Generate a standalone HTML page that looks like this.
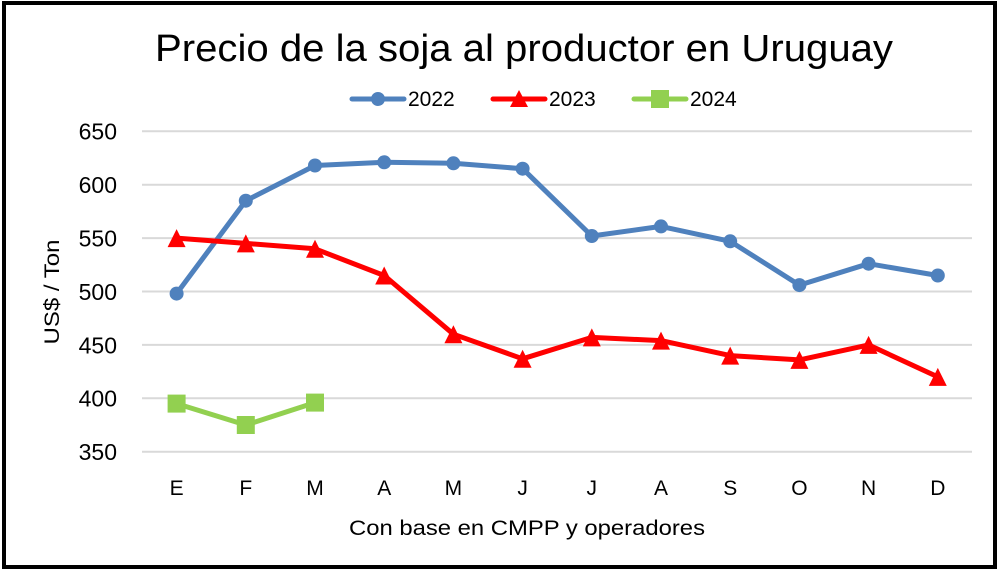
<!DOCTYPE html>
<html>
<head>
<meta charset="utf-8">
<style>
  html, body { margin: 0; padding: 0; background: #fff; }
  svg { display: block; }
  text { font-family: "Liberation Sans", "DejaVu Sans", sans-serif; fill: #000; }
</style>
</head>
<body>
<svg width="1000" height="570" viewBox="0 0 1000 570" xmlns="http://www.w3.org/2000/svg">
  <rect x="0" y="0" width="1000" height="570" fill="#fff"/>
  <rect x="4" y="3" width="991" height="564" fill="#fff" stroke="#000" stroke-width="4"/>

  <!-- Title -->
  <text x="155" y="61" font-size="38" textLength="738" lengthAdjust="spacingAndGlyphs">Precio de la soja al productor en Uruguay</text>

  <!-- Legend -->
  <line x1="352" y1="99" x2="404" y2="99" stroke="#4f81bd" stroke-width="5" stroke-linecap="round"/>
  <circle cx="378" cy="99" r="7" fill="#4f81bd"/>
  <text x="408" y="106" font-size="21">2022</text>
  <line x1="493" y1="99" x2="545" y2="99" stroke="#ff0000" stroke-width="5" stroke-linecap="round"/>
  <polygon points="519,90 528,107 510,107" fill="#ff0000"/>
  <text x="549" y="106" font-size="21">2023</text>
  <line x1="634" y1="99" x2="686" y2="99" stroke="#92d050" stroke-width="5" stroke-linecap="round"/>
  <rect x="651" y="90" width="18" height="18" fill="#92d050"/>
  <text x="690" y="106" font-size="21">2024</text>

  <!-- Gridlines -->
  <g stroke="#d9d9d9" stroke-width="2">
    <line x1="142" y1="131.3" x2="972" y2="131.3"/>
    <line x1="142" y1="184.7" x2="972" y2="184.7"/>
    <line x1="142" y1="238.1" x2="972" y2="238.1"/>
    <line x1="142" y1="291.5" x2="972" y2="291.5"/>
    <line x1="142" y1="344.9" x2="972" y2="344.9"/>
    <line x1="142" y1="398.3" x2="972" y2="398.3"/>
    <line x1="142" y1="451.7" x2="972" y2="451.7"/>
  </g>

  <!-- Y labels -->
  <g font-size="23" text-anchor="end">
    <text x="117" y="139.5">650</text>
    <text x="117" y="193">600</text>
    <text x="117" y="246.5">550</text>
    <text x="117" y="300">500</text>
    <text x="117" y="353.5">450</text>
    <text x="117" y="406.5">400</text>
    <text x="117" y="460">350</text>
  </g>

  <!-- Y axis title -->
  <text transform="translate(59,292) rotate(-90)" font-size="21" text-anchor="middle" textLength="105" lengthAdjust="spacingAndGlyphs">US$ / Ton</text>

  <!-- X labels -->
  <g font-size="21" text-anchor="middle">
    <text x="176.6" y="495">E</text>
    <text x="245.8" y="495">F</text>
    <text x="315.0" y="495">M</text>
    <text x="384.2" y="495">A</text>
    <text x="453.4" y="495">M</text>
    <text x="522.6" y="495">J</text>
    <text x="591.8" y="495">J</text>
    <text x="661.0" y="495">A</text>
    <text x="730.2" y="495">S</text>
    <text x="799.4" y="495">O</text>
    <text x="868.6" y="495">N</text>
    <text x="937.8" y="495">D</text>
  </g>

  <!-- X axis title -->
  <text x="527" y="535" font-size="21" text-anchor="middle" textLength="356" lengthAdjust="spacingAndGlyphs">Con base en CMPP y operadores</text>

  <!-- 2022 series -->
  <polyline fill="none" stroke="#4f81bd" stroke-width="5" stroke-linejoin="round"
    points="176.6,293.6 245.8,200.7 315.0,165.5 384.2,162.3 453.4,163.3 522.6,168.7 591.8,236.0 661.0,226.4 730.2,241.3 799.4,285.1 868.6,263.7 937.8,275.5"/>
  <g fill="#4f81bd">
    <circle cx="176.6" cy="293.6" r="7"/>
    <circle cx="245.8" cy="200.7" r="7"/>
    <circle cx="315.0" cy="165.5" r="7"/>
    <circle cx="384.2" cy="162.3" r="7"/>
    <circle cx="453.4" cy="163.3" r="7"/>
    <circle cx="522.6" cy="168.7" r="7"/>
    <circle cx="591.8" cy="236.0" r="7"/>
    <circle cx="661.0" cy="226.4" r="7"/>
    <circle cx="730.2" cy="241.3" r="7"/>
    <circle cx="799.4" cy="285.1" r="7"/>
    <circle cx="868.6" cy="263.7" r="7"/>
    <circle cx="937.8" cy="275.5" r="7"/>
  </g>

  <!-- 2023 series -->
  <polyline fill="none" stroke="#ff0000" stroke-width="5" stroke-linejoin="round"
    points="176.6,238.1 245.8,243.4 315.0,248.8 384.2,275.5 453.4,334.2 522.6,358.8 591.8,337.4 661.0,340.6 730.2,355.6 799.4,359.9 868.6,344.9 937.8,376.9"/>
  <g fill="#ff0000">
    <polygon points="176.6,229.1 185.6,247.1 167.6,247.1"/>
    <polygon points="245.8,234.4 254.8,252.4 236.8,252.4"/>
    <polygon points="315.0,239.8 324.0,257.8 306.0,257.8"/>
    <polygon points="384.2,266.5 393.2,284.5 375.2,284.5"/>
    <polygon points="453.4,325.2 462.4,343.2 444.4,343.2"/>
    <polygon points="522.6,349.8 531.6,367.8 513.6,367.8"/>
    <polygon points="591.8,328.4 600.8,346.4 582.8,346.4"/>
    <polygon points="661.0,331.6 670.0,349.6 652.0,349.6"/>
    <polygon points="730.2,346.6 739.2,364.6 721.2,364.6"/>
    <polygon points="799.4,350.9 808.4,368.9 790.4,368.9"/>
    <polygon points="868.6,335.9 877.6,353.9 859.6,353.9"/>
    <polygon points="937.8,367.9 946.8,385.9 928.8,385.9"/>
  </g>

  <!-- 2024 series -->
  <polyline fill="none" stroke="#92d050" stroke-width="5" stroke-linejoin="round"
    points="176.6,403.6 245.8,425.0 315.0,402.6"/>
  <g fill="#92d050">
    <rect x="167.6" y="394.6" width="18" height="18"/>
    <rect x="236.8" y="416.0" width="18" height="18"/>
    <rect x="306.0" y="393.6" width="18" height="18"/>
  </g>
</svg>
</body>
</html>
